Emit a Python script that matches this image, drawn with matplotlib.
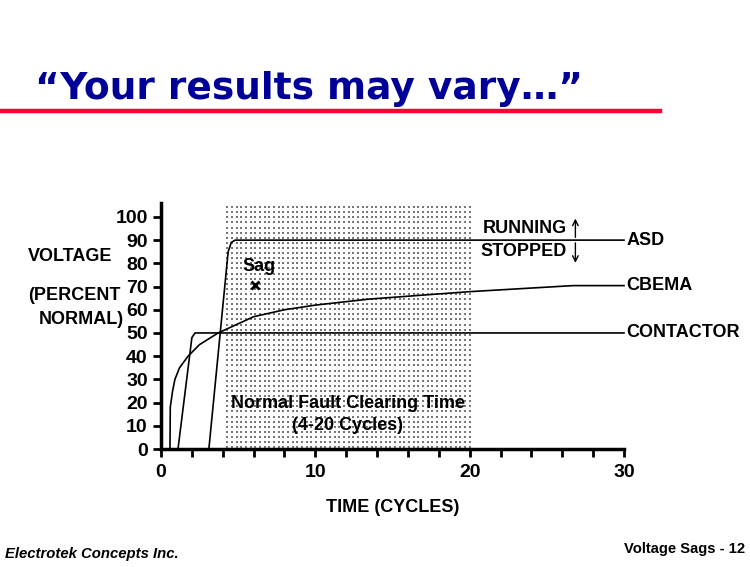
import numpy as np
import matplotlib.pyplot as plt
from matplotlib.lines import Line2D

# curve data (time in cycles, voltage in percent)
asd_t = [3.1, 4.35, 4.55, 4.8, 30]
asd_v = [0, 85, 89, 90, 90]

contactor_t = [1.1, 2.0, 2.2, 30]
contactor_v = [0, 48, 50, 50]

cbema_t = [0.58, 0.6, 0.75, 0.9, 1.2, 1.75, 2.5, 3.7, 6, 8, 10, 13.5, 20, 26.7, 30]
cbema_v = [0, 18, 25, 30, 35, 40, 45, 50, 57, 60, 62, 64.6, 67.8, 70.4, 70.4]

y_ticks = [0, 10, 20, 30, 40, 50, 60, 70, 80, 90, 100]
x_ticks_major = [0, 10, 20, 30]
x_ticks_minor = list(range(0, 31, 2))

fault_window = (4.3, 20)
sag_point = (6.1, 70.7)

plt.rcParams["font.family"] = ["Liberation Sans", "DejaVu Sans"]

fig = plt.figure(figsize=(7.5, 5.67), dpi=100)

# slide title and rule
fig.text(0.047, 0.843, "\u201cYour results may vary\u2026\u201d", color="#000099",
         fontsize=27, fontweight="bold", family="DejaVu Sans", va="center")
fig.add_artist(Line2D([0, 0.88], [0.804, 0.804], color="#ff0033", lw=3.2))

ax = fig.add_axes([0.2147, 0.2081, 0.6173, 0.4339])
ax.set_xlim(0, 30)
ax.set_ylim(0, 106)

# stippled fault-clearing window
gx, gy = np.meshgrid(np.linspace(fault_window[0], fault_window[1], 53),
                     np.arange(0.8, 105, 2.2))
ax.scatter(gx.ravel(), gy.ravel(), s=1.2, marker="s", color="#777777",
           linewidths=0, zorder=1)

ax.plot(asd_t, asd_v, color="black", lw=1.2, clip_on=False, zorder=3)
ax.plot(contactor_t, contactor_v, color="black", lw=1.2, clip_on=False, zorder=3)
ax.plot(cbema_t, cbema_v, color="black", lw=1.2, clip_on=False, zorder=3)

ax.plot(*sag_point, marker="x", color="black", ms=6, mew=2, zorder=3)
ax.text(5.3, 78.5, "Sag", fontsize=13, fontweight="bold", va="center")

ax.text(12.1, 19.5, "Normal Fault Clearing Time", fontsize=13, fontweight="bold",
        ha="center", va="center")
ax.text(12.1, 10, "(4-20 Cycles)", fontsize=13, fontweight="bold",
        ha="center", va="center")

ax.text(26.3, 94.8, "RUNNING", fontsize=13, fontweight="bold", ha="right", va="center")
ax.text(26.3, 85, "STOPPED", fontsize=13, fontweight="bold", ha="right", va="center")
ax.annotate("", xy=(26.85, 100.5), xytext=(26.85, 90),
            arrowprops=dict(arrowstyle="->", lw=1, color="black"))
ax.annotate("", xy=(26.85, 79), xytext=(26.85, 90),
            arrowprops=dict(arrowstyle="->", lw=1, color="black"))

for label, yv in [("ASD", 90), ("CBEMA", 70.4), ("CONTACTOR", 50)]:
    ax.text(30.15, yv, label, fontsize=13, fontweight="bold", va="center",
            clip_on=False)

for side in ["top", "right"]:
    ax.spines[side].set_visible(False)
for side in ["left", "bottom"]:
    ax.spines[side].set_linewidth(2.5)

ax.set_yticks(y_ticks)
ax.set_xticks(x_ticks_major)
ax.set_xticks(x_ticks_minor, minor=True)
ax.tick_params(axis="both", which="both", direction="out", width=2, length=6,
               labelsize=14)
ax.tick_params(axis="x", which="major", pad=5)
for lbl in ax.get_xticklabels() + ax.get_yticklabels():
    lbl.set_fontweight("bold")

ax.set_xlabel("TIME (CYCLES)", fontsize=13, fontweight="bold", labelpad=13)

fig.text(0.037, 0.547, "VOLTAGE", fontsize=13, fontweight="bold", va="center")
fig.text(0.037, 0.478, "(PERCENT", fontsize=13, fontweight="bold", va="center")
fig.text(0.051, 0.437, "NORMAL)", fontsize=13, fontweight="bold", va="center")

fig.text(0.007, 0.023, "Electrotek Concepts Inc.", fontsize=10.7, fontweight="bold",
         style="italic", va="center")
fig.text(0.993, 0.031, "Voltage Sags - 12", fontsize=10.6, fontweight="bold",
         ha="right", va="center")

fig.savefig("out.png", dpi=100)
